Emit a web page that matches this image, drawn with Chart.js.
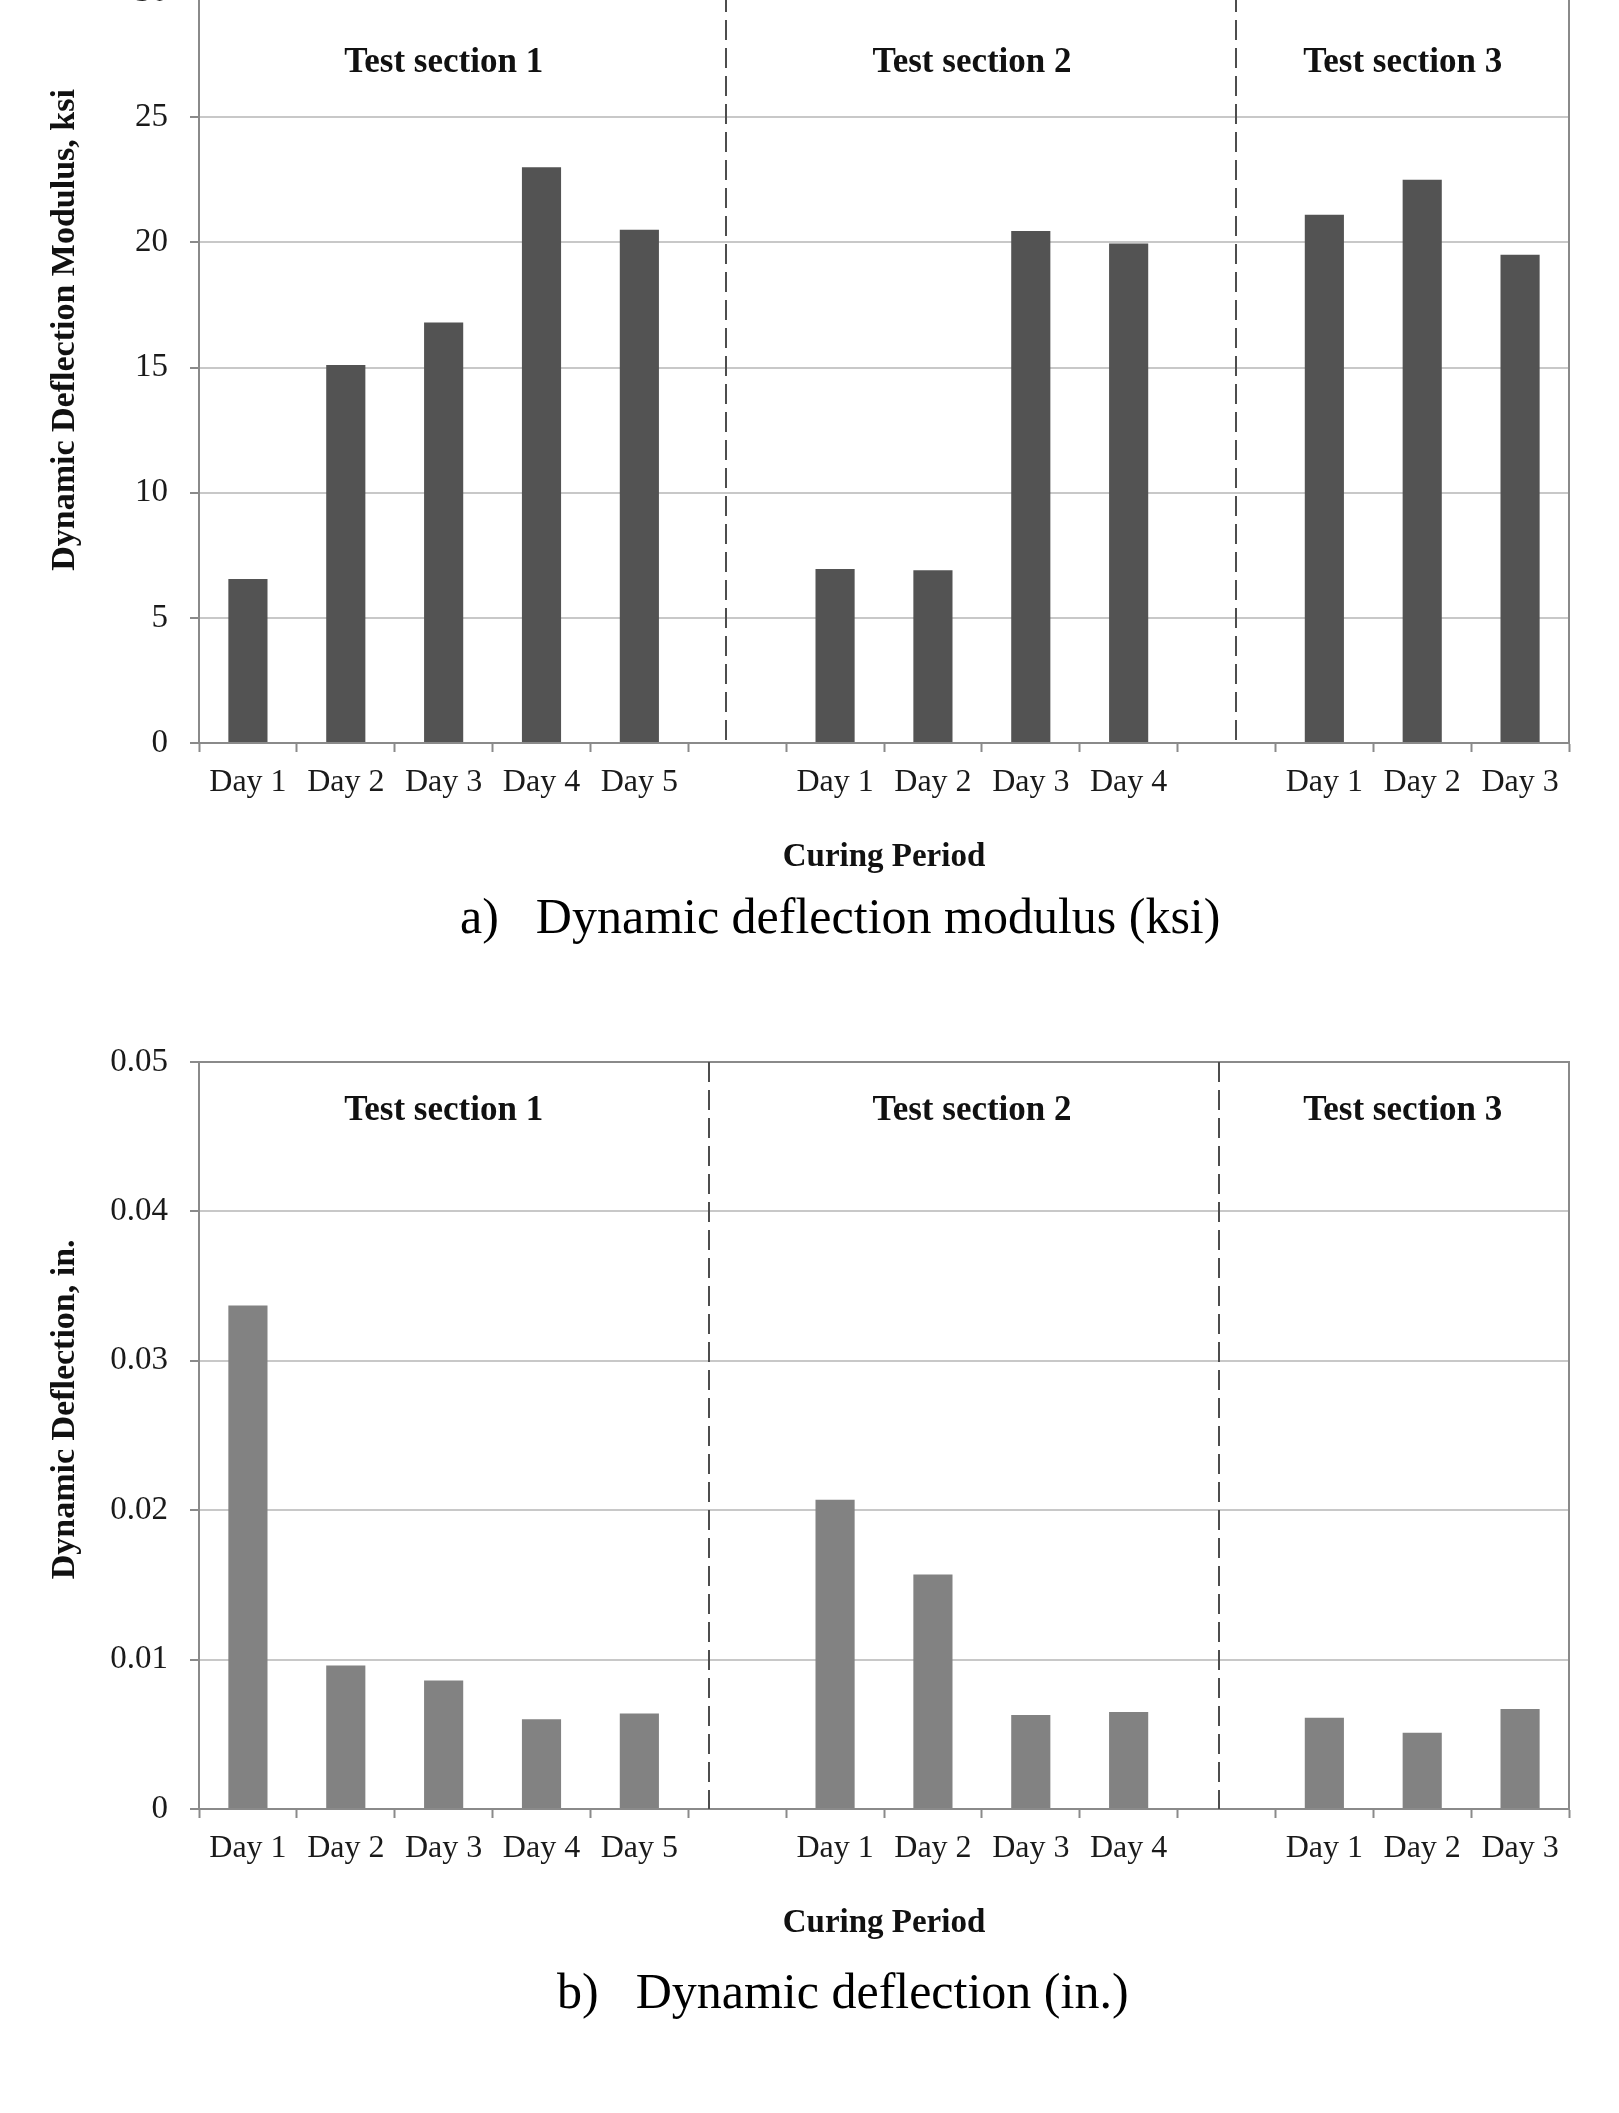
<!DOCTYPE html>
<html>
<head>
<meta charset="utf-8">
<script src="https://cdn.jsdelivr.net/npm/chart.js"></script>
<style>
  html, body { margin: 0; padding: 0; background: #fff; }
  body { position: relative; width: 1619px; height: 2113px; overflow: hidden;
         font-family: "Liberation Serif", "Times New Roman", serif; }
  canvas { position: absolute; left: 0; }
  #modulusChart { top: -58px; }
  #deflectionChart { top: 1012px; }
  .caption { position: absolute; font-size: 50px; line-height: 50px; white-space: nowrap; color: #000; }
  .caption span { margin-left: 37px; }
</style>
</head>
<body>
<canvas id="modulusChart" width="1619" height="936"></canvas>
<div class="caption" style="left:460px; top:891px">a)<span>Dynamic deflection modulus (ksi)</span></div>
<canvas id="deflectionChart" width="1619" height="932"></canvas>
<div class="caption" style="left:557px; top:1966px">b)<span>Dynamic deflection (in.)</span></div>
<script>
// x categories: three test sections, blank slot between them
const curingDays = ['Day 1', 'Day 2', 'Day 3', 'Day 4', 'Day 5', '',
                    'Day 1', 'Day 2', 'Day 3', 'Day 4', '',
                    'Day 1', 'Day 2', 'Day 3'];
const sectionNames = ['Test section 1', 'Test section 2', 'Test section 3'];

// a) dynamic deflection modulus, ksi
const modulusKsi = [6.55, 15.1, 16.8, 23.0, 20.5, null,
                    6.95, 6.9, 20.45, 19.95, null,
                    21.1, 22.5, 19.5];
// b) dynamic deflection, in.
const deflectionIn = [0.0337, 0.0096, 0.0086, 0.0060, 0.0064, null,
                      0.0207, 0.0157, 0.0063, 0.0065, null,
                      0.0061, 0.0051, 0.0067];

const serif = '"Liberation Serif", "Times New Roman", serif';

// frame, dashed section dividers, section names and rotated y title
const framePlugin = {
  id: 'frame',
  afterDraw(chart, args, opts) {
    const {ctx, chartArea: a, scales: {x}} = chart;
    ctx.save();
    ctx.strokeStyle = '#8a8a8a';
    ctx.lineWidth = 2;
    ctx.strokeRect(a.left, a.top, a.right - a.left, a.bottom - a.top);

    ctx.strokeStyle = '#4d4d4d';
    ctx.lineWidth = 2;
    ctx.setLineDash([20, 8]);
    opts.dividers.forEach(v => {
      const px = Math.round(x.getPixelForValue(v));
      ctx.beginPath();
      ctx.moveTo(px, a.top);
      ctx.lineTo(px, a.bottom);
      ctx.stroke();
    });
    ctx.setLineDash([]);

    ctx.fillStyle = '#111';
    ctx.font = 'bold 35px ' + serif;
    ctx.textAlign = 'center';
    ctx.textBaseline = 'middle';
    sectionNames.forEach((name, i) => {
      ctx.fillText(name, x.getPixelForValue(opts.labelAt[i]), a.top + opts.labelDrop);
    });

    ctx.font = 'bold 34px ' + serif;
    ctx.translate(65, a.top + opts.titleFrac * (a.bottom - a.top));
    ctx.rotate(-Math.PI / 2);
    ctx.fillText(opts.yTitle, 0, 0);
    ctx.restore();
  }
};

function makeChart(id, values, color, yMax, yStep, fmt, frameOpts) {
  return new Chart(document.getElementById(id), {
    type: 'bar',
    data: {
      labels: curingDays,
      datasets: [{
        data: values,
        backgroundColor: color,
        borderWidth: 0,
        categoryPercentage: 0.4,
        barPercentage: 1.0
      }]
    },
    options: {
      responsive: false,
      animation: false,
      layout: { padding: { top: 50, right: 50, bottom: 0, left: 0 } },
      plugins: {
        legend: { display: false },
        tooltip: { enabled: false },
        frame: frameOpts
      },
      scales: {
        x: {
          afterFit: s => { s.height = 135; },
          grid: { display: true, drawOnChartArea: false, drawTicks: true, tickLength: 9,
                  tickColor: '#8a8a8a', tickWidth: 2, offset: true },
          border: { display: true, color: '#8a8a8a', width: 2 },
          ticks: { autoSkip: false, maxRotation: 0, padding: 11, color: '#1a1a1a',
                   font: { family: serif, size: 32 } },
          title: { display: true, text: 'Curing Period', color: '#111',
                   font: { family: serif, size: 33, weight: 'bold' },
                   padding: { top: 0, bottom: 1 } }
        },
        y: {
          min: 0,
          max: yMax,
          afterFit: s => { s.width = 199; },
          grid: { color: '#c8c8c8', lineWidth: 2, tickLength: 9, tickColor: '#8a8a8a' },
          border: { display: true, color: '#8a8a8a', width: 2 },
          ticks: { stepSize: yStep, padding: 22, color: '#1a1a1a',
                   font: { family: serif, size: 33 }, callback: fmt }
        }
      }
    },
    plugins: [framePlugin]
  });
}

makeChart('modulusChart', modulusKsi, '#535353', 30, 5, v => String(v), {
  dividers: [4.89, 10.1],
  labelAt: [2.0, 7.4, 11.8],
  labelDrop: 71,
  yTitle: 'Dynamic Deflection Modulus, ksi',
  titleFrac: 0.45
});

makeChart('deflectionChart', deflectionIn, '#828282', 0.05, 0.01,
  v => (v === 0 ? '0' : v.toFixed(2)), {
  dividers: [4.71, 9.92],
  labelAt: [2.0, 7.4, 11.8],
  labelDrop: 49,
  yTitle: 'Dynamic Deflection, in.',
  titleFrac: 0.465
});
</script>
</body>
</html>
